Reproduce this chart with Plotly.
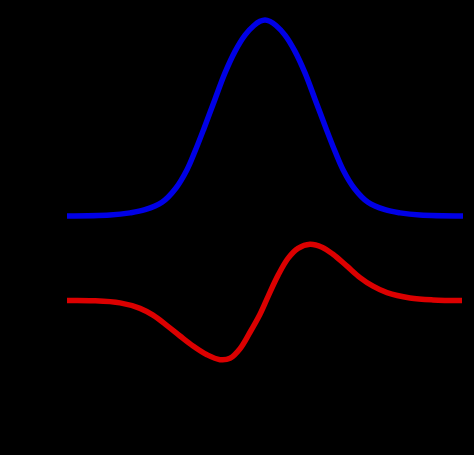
import plotly.graph_objects as go

# absorption line (blue) - x in field offset units, y normalised
abs_x = [-198, -155, -135, -120, -103, -89, -78, -70, -61, -50, -40, -30, -20, -11, -5,
         0, 5, 11, 20, 30, 40, 50, 61, 70, 78, 89, 103, 120, 135, 155, 198]
abs_y = [0.0, 0.005, 0.016, 0.032, 0.070, 0.143, 0.236, 0.330, 0.447, 0.596, 0.730,
         0.840, 0.923, 0.972, 0.993, 1.0, 0.993, 0.972, 0.923, 0.840, 0.730, 0.596,
         0.447, 0.330, 0.236, 0.143, 0.070, 0.032, 0.016, 0.005, 0.0]

# dispersion signal (red)
disp_x = [-198, -172, -145, -125, -112, -98, -85, -72, -58, -45, -35, -25, -15, -5,
          3, 13, 23, 33, 45, 57, 68, 82, 95, 108, 122, 145, 168, 197]
disp_y = [0.0, -0.001, -0.012, -0.040, -0.075, -0.128, -0.181, -0.232, -0.277, -0.302,
          -0.295, -0.246, -0.162, -0.070, 0.020, 0.128, 0.215, 0.266, 0.287, 0.272,
          0.236, 0.175, 0.117, 0.073, 0.040, 0.013, 0.003, 0.0]

fig = go.Figure()
fig.add_trace(go.Scatter(x=abs_x, y=abs_y, mode='lines',
                         line=dict(color='#0000e6', width=5.5, shape='spline', smoothing=1)))
fig.add_trace(go.Scatter(x=disp_x, y=disp_y, mode='lines', yaxis='y2',
                         line=dict(color='#dc0000', width=5.5, shape='spline', smoothing=1)))

fig.update_layout(
    width=474, height=455,
    margin=dict(l=0, r=0, t=0, b=0),
    paper_bgcolor='black', plot_bgcolor='black',
    showlegend=False,
    xaxis=dict(range=[-265, 209], visible=False),
    yaxis=dict(range=[-239 / 196, 216 / 196], visible=False),
    yaxis2=dict(range=[-154.5 / 196, 300.5 / 196], visible=False, overlaying='y'),
)

# page has a default 8px body margin; drop it so the chart fills the window
fig.write_html("out.html", config={'displayModeBar': False},
               post_script="document.body.style.margin='0';"
                           "document.body.style.background='black';")
